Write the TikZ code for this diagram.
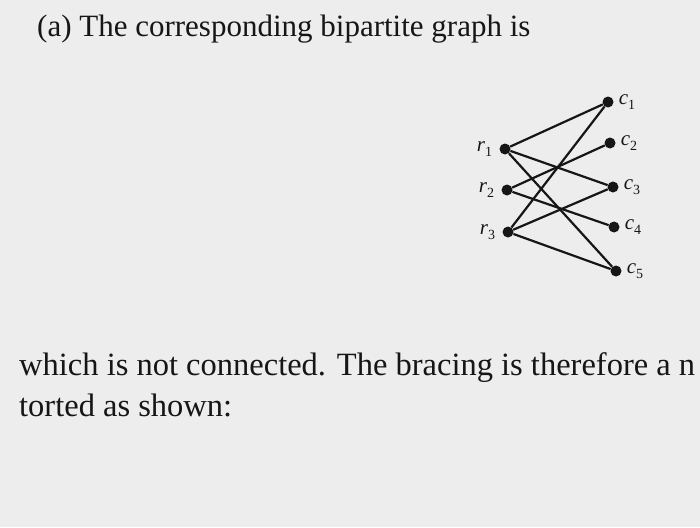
\documentclass[tikz,border=0pt]{standalone}
\usepackage{fontspec}
\setmainfont{Liberation Serif}
\usepackage{tikz}
\usetikzlibrary{positioning}
\definecolor{pagegray}{RGB}{236,237,236}
\definecolor{inkblack}{RGB}{22,22,22}
% label like r_1 in the book's italic
\newcommand{\vlab}[2]{\textit{#1}\raisebox{-5pt}{\fontsize{14}{14}\selectfont #2}}

\begin{document}
\begin{tikzpicture}[x=1pt,y=-1pt,
    vertex/.style={circle,fill=inkblack,inner sep=0pt,minimum size=11pt},
    edge/.style={draw=inkblack,line width=2.2pt},
    vlabel/.style={font=\fontsize{21}{21}\selectfont,text=inkblack,inner sep=1pt},
    prose/.style={anchor=base west,text=inkblack,inner sep=0pt}]
    % page background, fixes the size
    \fill[pagegray] (0,0) rectangle (700,527);
    \useasboundingbox (0,0) rectangle (700,527);
    \clip (0,0) rectangle (700,527);

    % running text
    \node[prose,font=\fontsize{31}{31}\selectfont] (head) at (37,37) {(a) The corresponding bipartite graph is};
    \node[prose,font=\fontsize{32.5}{32.5}\selectfont] (line1) at (19,375) {which is not connected. The bracing is therefore a n};
    \node[prose,font=\fontsize{32.5}{32.5}\selectfont] (line2) at (19,416) {torted as shown:};

    % rows
    \node[vertex] (r1) at (505,149) {};
    \node[vertex] (r2) at (507,190) {};
    \node[vertex] (r3) at (508,232) {};
    % columns
    \node[vertex] (c1) at (608,102) {};
    \node[vertex] (c2) at (610,143) {};
    \node[vertex] (c3) at (613,187) {};
    \node[vertex] (c4) at (614,227) {};
    \node[vertex] (c5) at (616,271) {};

    % labels
    \node[vlabel,left=6pt of r1] (lr1) {\vlab{r}{1}};
    \node[vlabel,left=6pt of r2] (lr2) {\vlab{r}{2}};
    \node[vlabel,left=6pt of r3] (lr3) {\vlab{r}{3}};
    \node[vlabel,right=4pt of c1] (lc1) {\vlab{c}{1}};
    \node[vlabel,right=4pt of c2] (lc2) {\vlab{c}{2}};
    \node[vlabel,right=4pt of c3] (lc3) {\vlab{c}{3}};
    \node[vlabel,right=4pt of c4] (lc4) {\vlab{c}{4}};
    \node[vlabel,right=4pt of c5] (lc5) {\vlab{c}{5}};

    % edges
    \draw[edge] (r1) -- (c1);
    \draw[edge] (r1) -- (c3);
    \draw[edge] (r1) -- (c5);
    \draw[edge] (r2) -- (c2);
    \draw[edge] (r2) -- (c4);
    \draw[edge] (r3) -- (c1);
    \draw[edge] (r3) -- (c3);
    \draw[edge] (r3) -- (c5);
\end{tikzpicture}
\end{document}
